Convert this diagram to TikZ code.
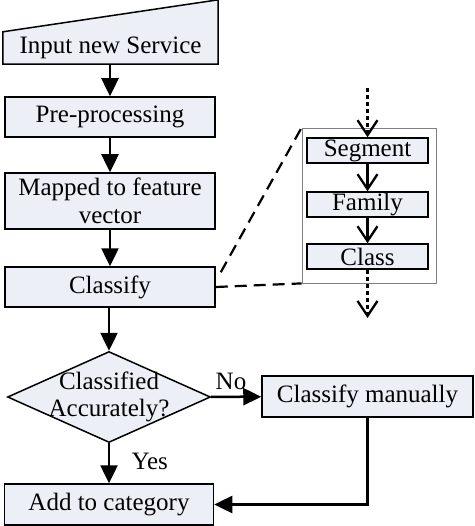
\documentclass[tikz,border=0pt]{standalone}
\usepackage{fontspec}
\setmainfont{Liberation Serif}
\usetikzlibrary{arrows.meta}
\usetikzlibrary{shapes.geometric}
\definecolor{boxgray}{RGB}{236,239,246}
\tikzset{
  stepbox/.style={draw, line width=1.5pt, fill=boxgray, inner sep=0pt, align=center},
  subbox/.style={stepbox, minimum width=121pt, minimum height=25pt},
  flow/.style={line width=2.5pt, -{Triangle[length=18pt,width=17pt]}},
  subflow/.style={line width=2.3pt, -{Straight Barb[length=15pt,width=20pt,line width=2.3pt]}},
  dotflow/.style={subflow, dash pattern=on 4pt off 3pt},
  zoomline/.style={line width=2.2pt, dash pattern=on 12pt off 7pt},
}
\begin{document}
\begin{tikzpicture}[x=1pt,y=-1pt,font=\fontsize{25}{28}\selectfont]
				\useasboundingbox (0,0) rectangle (474,526);
				% main column
				\node[inner sep=0pt, minimum width=215pt, minimum height=32pt] (input) at (110.5,48) {};
				\draw[stepbox] (input.south west) -- (input.north west) -- ([yshift=32pt]input.north east) -- (input.south east) -- cycle;
				\node at (input) {Input new Service};
				\node[stepbox, minimum width=210pt, minimum height=40pt] (prep) at (110,117) {Pre-processing};
				\node[stepbox, minimum width=210pt, minimum height=56pt] (mapped) at (110,201) {Mapped to feature\\vector};
				\node[stepbox, minimum width=210pt, minimum height=40pt] (classify) at (110,287) {Classify};
				\node[stepbox, shape=diamond, minimum width=203pt, minimum height=91pt,
					label={[align=center, font=\fontsize{25}{27}\selectfont]center:Classified\\Accurately?}] (check) at (109,397) {};
				\node[stepbox, minimum width=211pt, minimum height=41pt] (manual) at (367.5,396.5) {Classify manually};
				\node[stepbox, minimum width=209pt, minimum height=41pt] (add) at (109,504.5) {Add to category};
				% zoomed panel
				\node[draw=gray, line width=0.8pt, minimum width=134pt, minimum height=155pt] (zoom) at (369,205.5) {};
				\node[subbox] (segment) at (367.5,150.5) {Segment};
				\node[subbox] (family) at (367.5,204.5) {Family};
				\node[subbox] (class) at (367.5,256.5) {Class};
				\coordinate (zin) at (367.5,88);
				\coordinate (zout) at (367.5,318);
				\draw[flow] (input.south -| prep.north) -- (prep);
				\draw[flow] (prep) -- (mapped);
				\draw[flow] (mapped) -- (classify);
				\draw[flow] (classify.south -| check.north) -- (check.north);
				\draw[flow] (check) -- node[above, pos=0.4, yshift=2pt] {No} (manual);
				\draw[flow] (check) -- node[right, pos=0.45, xshift=18pt] {Yes} (add);
				\draw[flow] (manual.south) |- (add.east);
				\draw[dotflow] (zin) -- (segment.north);
				\draw[subflow] (segment) -- (family);
				\draw[subflow] (family) -- (class);
				\draw[dotflow] (class.south) -- (zout);
				\draw[zoomline] ([xshift=5pt,yshift=-6pt]classify.north east) -- (zoom.north west);
				\draw[zoomline] (classify.east) -- (zoom.south west);
			\end{tikzpicture}
\end{document}
